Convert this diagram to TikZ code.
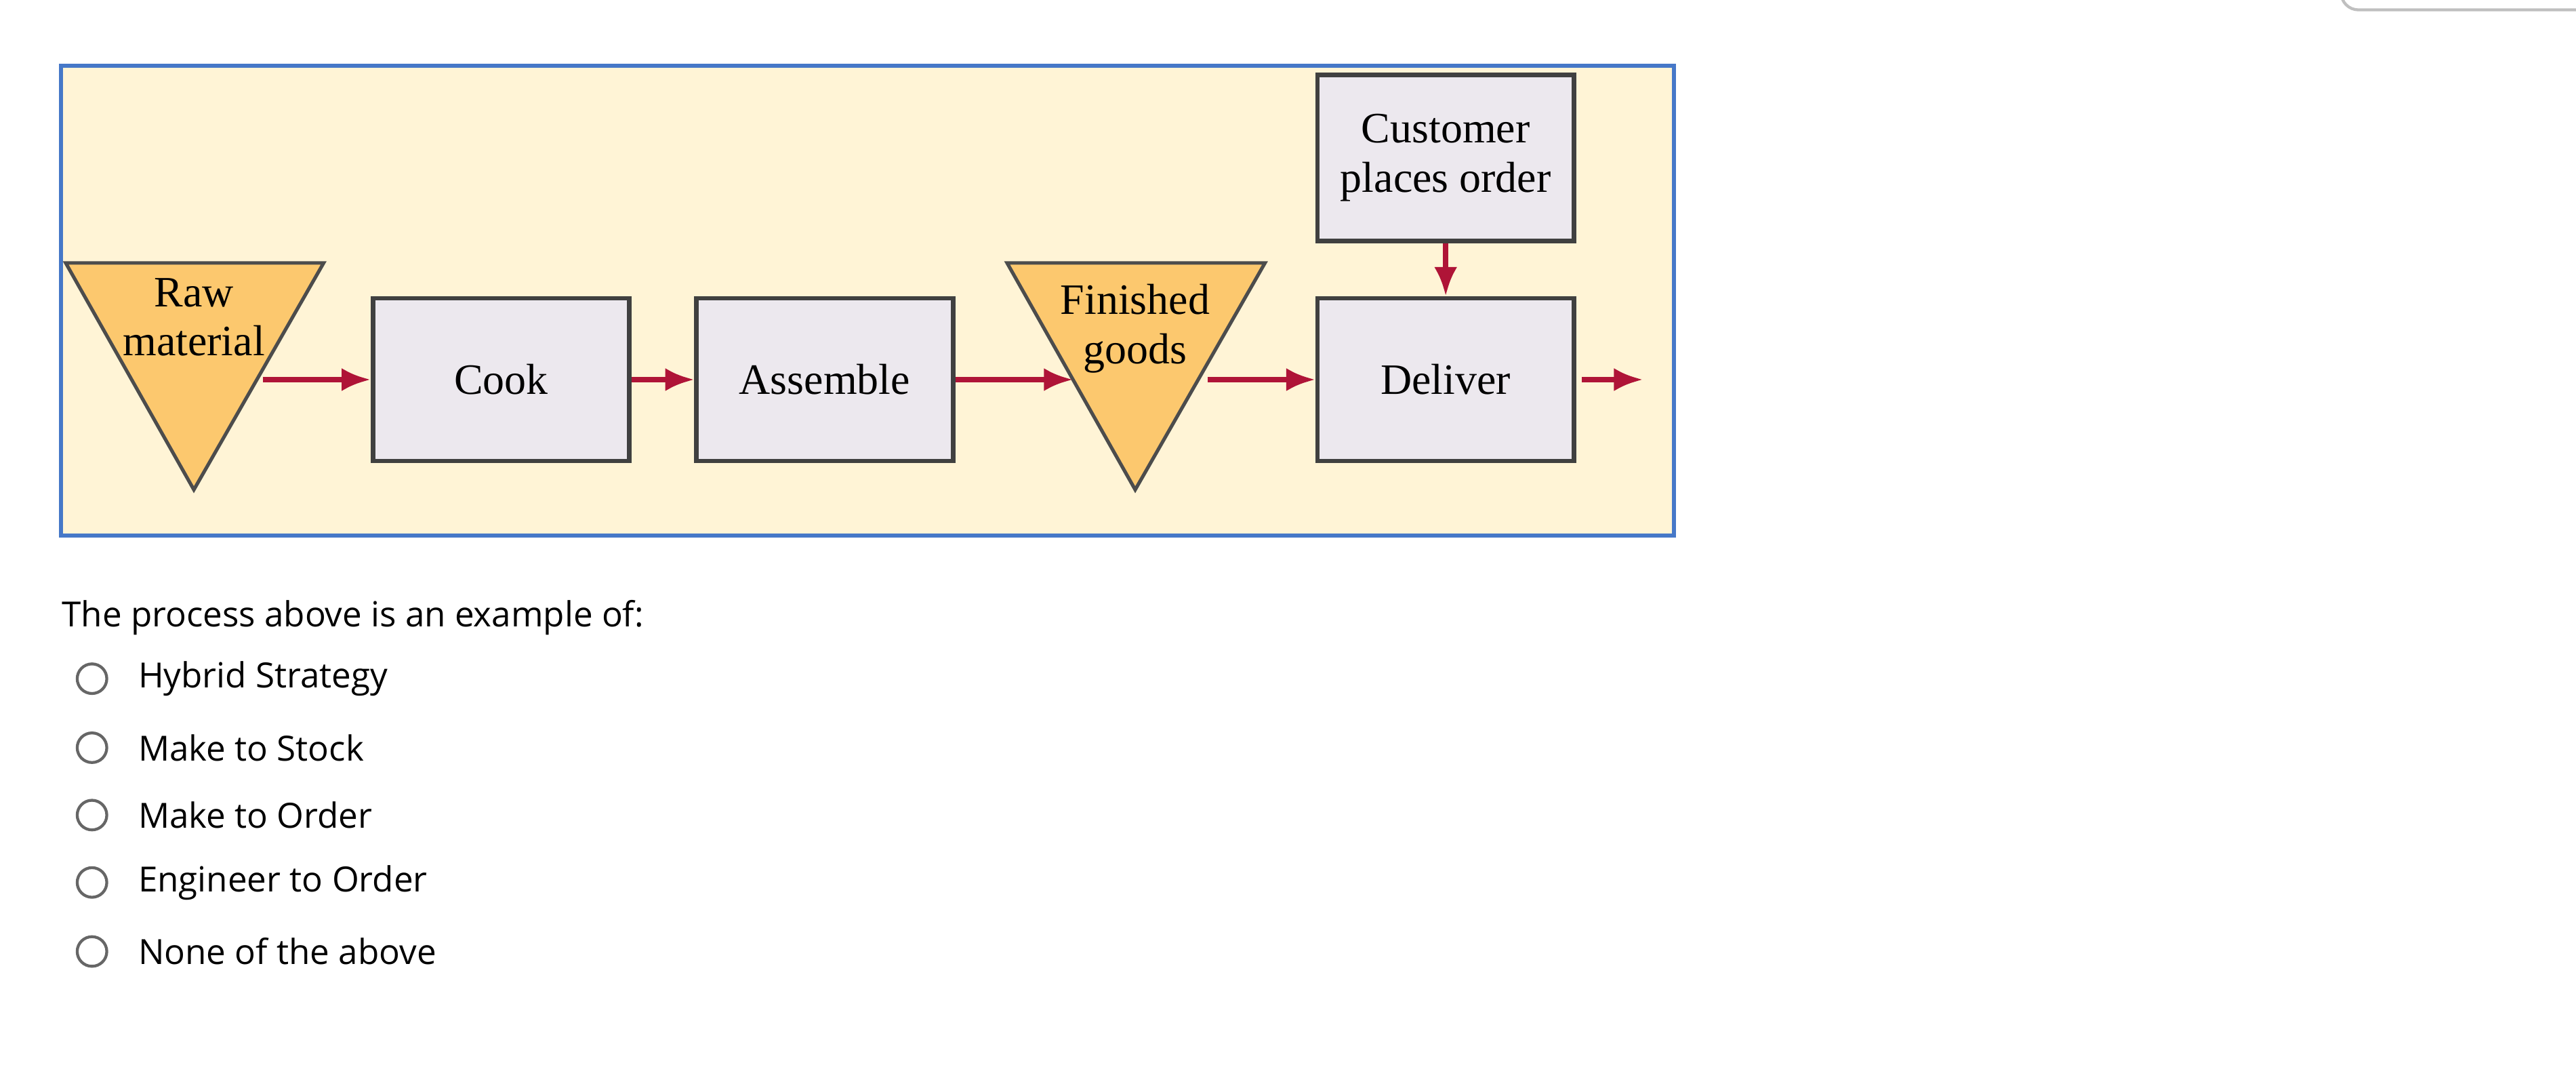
\documentclass[tikz,border=0pt]{standalone}
\usepackage{fontspec}
\setmainfont{Liberation Serif}
\newfontfamily\uifont{Open Sans}
\usetikzlibrary{positioning,arrows.meta}
\definecolor{panelbg}{RGB}{255,244,214}
\definecolor{panelline}{RGB}{70,120,200}
\definecolor{boxfill}{RGB}{236,232,238}
\definecolor{stockfill}{RGB}{252,200,110}
\definecolor{flowred}{RGB}{175,20,55}

\tikzset{
  process/.style={draw=black!75,fill=boxfill,line width=0.8pt,minimum width=1.56cm,minimum height=0.99cm,inner sep=0pt,font=\fontsize{7.5}{8.5}\selectfont,align=center},
  stock/.style={draw=black!70,fill=stockfill,line width=0.6pt},
  flow/.style={draw=flowred,line width=0.9pt,-{Latex[length=5pt,width=4pt]}},
  answer/.style={font=\uifont\fontsize{6}{7}\selectfont,anchor=west,inner sep=0pt},
  radio/.style={draw=black!60,line width=0.5pt,circle,minimum size=0.18cm,inner sep=0pt}
}

\begin{document}
\begin{tikzpicture}[x=0.01cm,y=-0.01cm]
  \useasboundingbox (0,0) rectangle (1568,648);
  \fill[white] (0,0) rectangle (1568,648);
  % corner of a widget, cut off at the top
  \begin{scope}
    \clip (1400,0) rectangle (1568,8);
    \draw[black!25,line width=0.5pt,rounded corners=3pt] (1425,-20) rectangle (1600,6);
  \end{scope}
  % panel
  \draw[panelline,fill=panelbg,line width=0.7pt] (37,40) rectangle (1019,326);

  % stock triangles
  \draw[stock] (40,160) -- (197,160) -- (118,298) -- cycle;
  \node[font=\fontsize{7.5}{8.5}\selectfont,align=center] (raw) at (118,193) {Raw\\material};
  \draw[stock] (613,160) -- (770,160) -- (691,298) -- cycle;
  \node[font=\fontsize{7.5}{8.5}\selectfont,align=center] (finished) at (691,200) {Finished\\goods};
  \coordinate (rawout) at (160,231);
  \coordinate (fgin) at (653,231);
  \coordinate (fgout) at (735,231);
  \coordinate (outflow) at (1000,231);

  % process boxes
  \node[process] (cook) at (305,231) {Cook};
  \node[process] (assemble) at (502,231) {Assemble};
  \node[process] (deliver) at (880,231) {Deliver};
  \node[process,minimum height=1.01cm] (customer) at (880,96) {Customer\\places order};

  \draw[flow] (rawout) -- (cook);
  \draw[flow] (cook) -- (assemble);
  \draw[flow] (assemble) -- (fgin);
  \draw[flow] (fgout) -- (deliver);
  \draw[flow] (deliver.east) ++(1pt,0) -- (outflow);
  \draw[flow] (customer) -- (deliver);

  % question
  \node[answer] (question) at (37,376) {The process above is an example of:};
  \foreach \y/\t [count=\i] in {413/Hybrid Strategy,455/Make to Stock,496/Make to Order,537/Engineer to Order,579/None of the above}
  {
    \node[radio] (radio\i) at (56,\y) {};
    \node[answer,right=5pt of radio\i] (choice\i) {\t};
  }
\end{tikzpicture}
\end{document}
